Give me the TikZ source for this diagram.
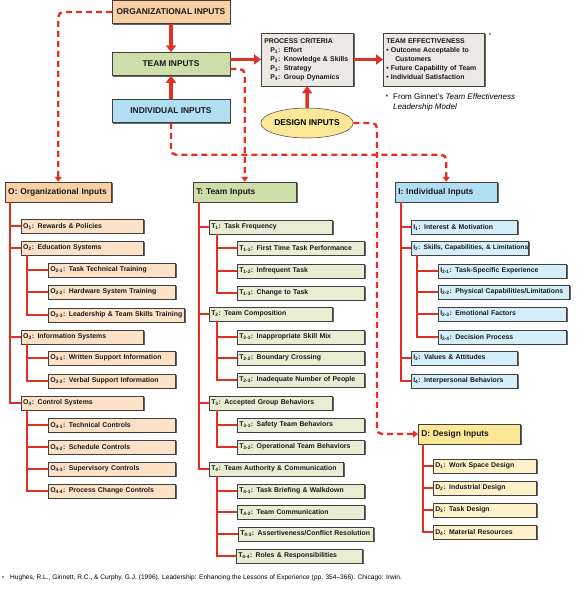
\documentclass[tikz,border=0pt]{standalone}
\usepackage{fontspec}
\setmainfont{Liberation Sans}
\usetikzlibrary{arrows.meta,shadows,shapes.geometric}
\definecolor{tred}{RGB}{226,48,36}
\definecolor{orghead}{RGB}{250,208,164}
\definecolor{orgsub}{RGB}{252,225,198}
\definecolor{teamhead}{RGB}{205,222,168}
\definecolor{teamsub}{RGB}{232,237,212}
\definecolor{indhead}{RGB}{176,222,242}
\definecolor{indsub}{RGB}{212,238,250}
\definecolor{deshead}{RGB}{252,232,150}
\definecolor{dessub}{RGB}{253,241,202}
\definecolor{procfill}{RGB}{236,232,226}
\newcommand{\sub}[1]{\textsubscript{#1}}
\begin{document}
\begin{tikzpicture}[x=1pt,y=-1pt]
\tikzset{
  box/.style={draw=black!75, line width=0.5pt, anchor=west, align=left,
    inner xsep=2pt, inner ysep=0pt, minimum height=14pt, text=black!90,
    font=\fontsize{6.9}{8}\selectfont\bfseries,
    general shadow={fill=black!60, shadow xshift=1.3pt, shadow yshift=-1.3pt}},
  head/.style={box, minimum height=20pt, inner xsep=3pt, font=\fontsize{8.4}{10}\selectfont\bfseries},
  top/.style={box, anchor=center, align=center, minimum width=118pt, minimum height=23pt,
    font=\fontsize{8.4}{10}\selectfont\bfseries},
  crit/.style={box, inner xsep=3pt, minimum height=53pt, font=\fontsize{6.9}{9}\selectfont\bfseries},
  osub/.style={box, fill=orgsub}, tsub/.style={box, fill=teamsub},
  isub/.style={box, fill=indsub}, dsub/.style={box, fill=dessub},
  branch/.style={draw=tred, line width=1.2pt},
  dashline/.style={draw=tred, line width=2.4pt, dash pattern=on 6pt off 4pt,
    rounded corners=5pt, -{Triangle[width=7pt,length=5pt]}},
  bigarrow/.style={draw=tred, line width=3.5pt, -{Triangle[width=10pt,length=7pt]}}
}
\useasboundingbox (0,0) rectangle (587,590);

\node[top, fill=orghead] (org) at (171,12) {ORGANIZATIONAL INPUTS};
\node[top, fill=teamhead] (team) at (171,64) {TEAM INPUTS};
\node[top, fill=indhead] (indiv) at (171,111) {INDIVIDUAL INPUTS};
\node[crit, fill=procfill, text width=86pt] (proc) at (261,59.5)
  {PROCESS CRITERIA\\\hspace*{6pt}P\sub{1}: Effort\\\hspace*{6pt}\mbox{P\sub{2}: Knowledge \& Skills}\\
   \hspace*{6pt}P\sub{3}: Strategy\\\hspace*{6pt}P\sub{4}: Group Dynamics};
\node[crit, fill=procfill, text width=95pt] (eff) at (383,59.5)
  {TEAM EFFECTIVENESS\\\textbullet\ Outcome Acceptable to\\\hspace*{9pt}Customers\\
   \mbox{\textbullet\ Future Capability of Team}\\\textbullet\ Individual Satisfaction};
\node[font=\fontsize{6}{6}\selectfont] (star) at (490,35) {*};
\node[ellipse, draw=black!75, line width=0.5pt, fill=deshead, minimum width=77pt, minimum height=30pt,
  inner sep=0pt, font=\fontsize{8.4}{10}\selectfont\bfseries] (design) at (307,123) {DESIGN INPUTS};
\node[font=\fontsize{7}{7}\selectfont] (nstar) at (387,97) {*};
\node[anchor=west, align=left, inner sep=0pt, font=\fontsize{8}{10}\selectfont] (note) at (393,102)
  {From Ginnet's \textit{Team Effectiveness}\\\textit{Leadership Model}};

\node[head, fill=orghead, text width=100pt] (o) at (5,192) {O: Organizational Inputs};
\node[osub, text width=118pt] (o1) at (21,226) {O\sub{1}: Rewards \& Policies};
\node[osub, text width=118pt] (o2) at (21,248) {O\sub{2}: Education Systems};
\node[osub, text width=123pt] (o21) at (48,270) {O\sub{2-1}: Task Technical Training};
\node[osub, text width=123pt] (o22) at (48,292) {O\sub{2-2}: Hardware System Training};
\node[osub, text width=132pt] (o23) at (48,315) {\mbox{O\sub{2-3}: Leadership \& Team Skills Training}};
\node[osub, text width=118pt] (o3) at (21,337) {O\sub{3}: Information Systems};
\node[osub, text width=123pt] (o31) at (48,358) {O\sub{3-1}: Written Support Information};
\node[osub, text width=123pt] (o32) at (48,381) {O\sub{3-2}: Verbal Support Information};
\node[osub, text width=118pt] (o4) at (21,403) {O\sub{4}: Control Systems};
\node[osub, text width=123pt] (o41) at (48,425) {O\sub{4-1}: Technical Controls};
\node[osub, text width=123pt] (o42) at (48,447) {O\sub{4-2}: Schedule Controls};
\node[osub, text width=123pt] (o43) at (48,469) {O\sub{4-3}: Supervisory Controls};
\node[osub, text width=123pt] (o44) at (48,491) {O\sub{4-4}: Process Change Controls};

\node[head, fill=teamhead, text width=97pt] (t) at (193,192) {T: Team Inputs};
\node[tsub, text width=119pt] (t1) at (209,227) {T\sub{1}: Task Frequency};
\node[tsub, text width=123pt] (t11) at (237,248) {T\sub{1-1}: First Time Task Performance};
\node[tsub, text width=123pt] (t12) at (237,271) {T\sub{1-2}: Infrequent Task};
\node[tsub, text width=123pt] (t13) at (237,293) {T\sub{1-3}: Change to Task};
\node[tsub, text width=119pt] (t2) at (209,314) {T\sub{2}: Team Composition};
\node[tsub, text width=123pt] (t21) at (237,337) {T\sub{2-1}: Inappropriate Skill Mix};
\node[tsub, text width=123pt] (t22) at (237,358) {T\sub{2-2}: Boundary Crossing};
\node[tsub, text width=123pt] (t23) at (237,380) {\mbox{T\sub{2-3}: Inadequate Number of People}};
\node[tsub, text width=119pt] (t3) at (209,403) {T\sub{3}: Accepted Group Behaviors};
\node[tsub, text width=123pt] (t31) at (237,425) {T\sub{3-1}: Safety Team Behaviors};
\node[tsub, text width=123pt] (t32) at (237,447) {T\sub{3-2}: Operational Team Behaviors};
\node[tsub, text width=130pt] (t4) at (209,469) {\mbox{T\sub{4}: Team Authority \& Communication}};
\node[tsub, text width=123pt] (t41) at (237,491) {T\sub{4-1}: Task Briefing \& Walkdown};
\node[tsub, text width=123pt] (t42) at (237,512) {T\sub{4-2}: Team Communication};
\node[tsub, text width=131pt] (t43) at (238,534) {\mbox{T\sub{4-3}: Assertiveness/Conflict Resolution}};
\node[tsub, text width=122pt] (t44) at (236,556) {T\sub{4-4}: Roles \& Responsibilities};

\node[head, fill=indhead, text width=96pt] (i) at (395,192) {I: Individual Inputs};
\node[isub, text width=102pt] (i1) at (411,227) {I\sub{1}: Interest \& Motivation};
\node[isub, text width=113pt, font=\fontsize{6.6}{8}\selectfont\bfseries] (i2) at (411,248)
  {\mbox{I\sub{2}: Skills, Capabilities, \& Limitations}};
\node[isub, text width=124pt] (i21) at (438,271) {I\sub{2-1}: Task-Specific Experience};
\node[isub, text width=127pt] (i22) at (438,292) {\mbox{I\sub{2-2}: Physical Capabilities/Limitations}};
\node[isub, text width=124pt] (i23) at (438,314) {I\sub{2-3}: Emotional Factors};
\node[isub, text width=124pt] (i24) at (438,337) {I\sub{2-4}: Decision Process};
\node[isub, text width=102pt] (i3) at (411,358) {I\sub{3}: Values \& Attitudes};
\node[isub, text width=102pt] (i4) at (411,381) {I\sub{4}: Interpersonal Behaviors};

\node[head, fill=deshead, text width=96pt] (d) at (418,434) {D: Design Inputs};
\node[dsub, text width=99pt] (d1) at (433,466) {D\sub{1}: Work Space Design};
\node[dsub, text width=99pt] (d2) at (433,488) {D\sub{2}: Industrial Design};
\node[dsub, text width=99pt] (d3) at (433,510) {D\sub{3}: Task Design};
\node[dsub, text width=99pt] (d4) at (433,532) {D\sub{4}: Material Resources};

\node[font=\fontsize{6}{6}\selectfont] (fstar) at (3,578) {*};
\node[anchor=west, inner sep=0pt, font=\fontsize{6.6}{7}\selectfont] (foot) at (10,578)
  {Hughes, R.L., Ginnett, R.C., \& Curphy, G.J. (1996). Leadership: Enhancing the Lessons of Experience (pp. 354--366). Chicago: Irwin.};

\draw[bigarrow] (org) -- (team);
\draw[bigarrow] (indiv) -- (team);
\draw[bigarrow] (team.east |- proc.west) -- (proc);
\draw[bigarrow] (proc) -- (eff);
\draw[bigarrow] (design) -- (proc);

\draw[dashline] (org.west) -| (o.north);
\draw[dashline] ([yshift=-5pt]team.east) -| (t.north);
\draw[dashline] (indiv.south) |- ([yshift=27pt]i.north) -- (i.north);
\draw[dashline] (design.east) -| ([xshift=-41pt]d.west) -- (d.west);

\foreach \c in {o1,o2,o3,o4} \draw[branch] ([xshift=5pt]o.south west) |- (\c.west);
\foreach \c in {o21,o22,o23} \draw[branch] ([xshift=6pt]o2.south west) |- (\c.west);
\foreach \c in {o31,o32} \draw[branch] ([xshift=6pt]o3.south west) |- (\c.west);
\foreach \c in {o41,o42,o43,o44} \draw[branch] ([xshift=6pt]o4.south west) |- (\c.west);
\foreach \c in {t1,t2,t3,t4} \draw[branch] ([xshift=6pt]t.south west) |- (\c.west);
\foreach \c in {t11,t12,t13} \draw[branch] ([xshift=8pt]t1.south west) |- (\c.west);
\foreach \c in {t21,t22,t23} \draw[branch] ([xshift=8pt]t2.south west) |- (\c.west);
\foreach \c in {t31,t32} \draw[branch] ([xshift=8pt]t3.south west) |- (\c.west);
\foreach \c in {t41,t42,t43,t44} \draw[branch] ([xshift=8pt]t4.south west) |- (\c.west);
\foreach \c in {i1,i2,i3,i4} \draw[branch] ([xshift=6pt]i.south west) |- (\c.west);
\foreach \c in {i21,i22,i23,i24} \draw[branch] ([xshift=6pt]i2.south west) |- (\c.west);
\foreach \c in {d1,d2,d3,d4} \draw[branch] ([xshift=5pt]d.south west) |- (\c.west);
\end{tikzpicture}
\end{document}
